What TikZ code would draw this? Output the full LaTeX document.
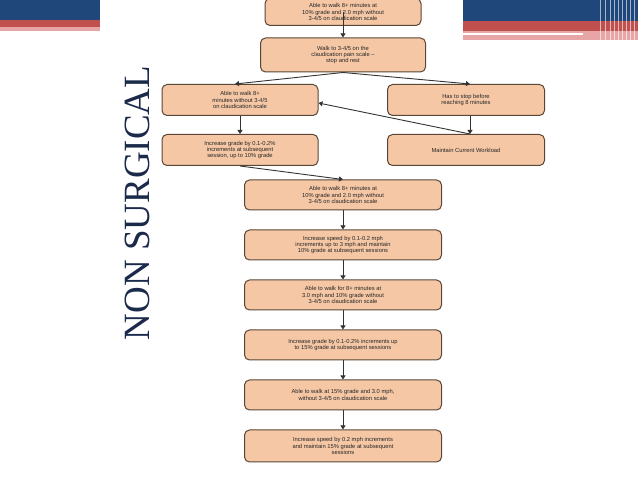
\documentclass[tikz,border=0pt]{standalone}
\usepackage{fontspec}
\setmainfont{Liberation Serif}
\setsansfont{Liberation Sans}
\usetikzlibrary{arrows.meta}
\definecolor{boxfill}{HTML}{F5C7A5}
\definecolor{boxline}{HTML}{5A4636}
\definecolor{navy}{HTML}{1F4779}
\definecolor{banred}{HTML}{C0504D}
\definecolor{banpink}{HTML}{E8A5A5}
\definecolor{title}{HTML}{1B2A4A}
\tikzset{
  fbox/.style={draw=boxline, line width=1pt, fill=boxfill, rounded corners=5pt, align=center,
    font=\sffamily\fontsize{5.8}{6.2}\selectfont, inner sep=1pt, text=black!85},
  flow/.style={draw=black!80, line width=0.9pt, -{Triangle[length=4pt,width=5pt]}}
}
\begin{document}
\begin{tikzpicture}[x=1pt,y=-1pt]
\useasboundingbox (0,0) rectangle (638,478);
% banners
\fill[navy] (0,0) rectangle (100,20);
\fill[banred] (0,20) rectangle (100,27);
\fill[banpink] (0,27) rectangle (100,31);
\fill[navy] (463,0) rectangle (638,21);
\fill[banred] (463,21) rectangle (638,31);
\fill[banpink] (463,31) rectangle (638,40);
\fill[white] (463,33) rectangle (583,35);
\foreach \x in {600,605,610,614,618,622,626,630,634} \fill[white,opacity=0.6] (\x,0) rectangle (\x+1.2,42);
\node[rotate=90, font=\fontsize{37}{37}\selectfont, text=title] (ttl) at (137,203) {NON SURGICAL};
% boxes
\node[fbox, minimum width=156pt, minimum height=27pt] (a) at (343,12) {Able to walk 8+ minutes at\\10\% grade and 2.0 mph without\\3-4/5 on claudication scale};
\node[fbox, minimum width=165pt, minimum height=34pt] (b) at (343,55) {Walk to 3-4/5 on the\\claudication pain scale --\\stop and rest};
\node[fbox, minimum width=156pt, minimum height=31pt] (c) at (240,100) {Able to walk 8+\\minutes without 3-4/5\\on claudication scale};
\node[fbox, minimum width=157pt, minimum height=31pt] (d) at (466,100) {Has to stop before\\reaching 8 minutes};
\node[fbox, minimum width=156pt, minimum height=31pt] (e) at (240,150) {Increase grade by 0.1-0.2\%\\increments at subsequent\\session, up to 10\% grade};
\node[fbox, minimum width=157pt, minimum height=31pt] (f) at (466,150) {Maintain Current Workload};
\node[fbox, minimum width=197pt, minimum height=30pt] (g) at (343,195) {Able to walk 8+ minutes at\\10\% grade and 2.0 mph without\\3-4/5 on claudication scale};
\node[fbox, minimum width=197pt, minimum height=30pt] (h) at (343,245) {Increase speed by 0.1-0.2 mph\\increments up to 3 mph and maintain\\10\% grade at subsequent sessions};
\node[fbox, minimum width=197pt, minimum height=30pt] (i) at (343,295) {Able to walk for 8+ minutes at\\3.0 mph and 10\% grade without\\3-4/5 on claudication scale};
\node[fbox, minimum width=197pt, minimum height=30pt] (j) at (343,345) {Increase grade by 0.1-0.2\% increments up\\to 15\% grade at subsequent sessions};
\node[fbox, minimum width=197pt, minimum height=30pt] (k) at (343,395) {Able to walk at 15\% grade and 3.0 mph,\\without 3-4/5 on claudication scale};
\node[fbox, minimum width=197pt, minimum height=32pt] (l) at (343,446) {Increase speed by 0.2 mph increments\\and maintain 15\% grade at subsequent\\sessions};
% arrows
\draw[flow] (a.center) -- (b.north);
\draw[flow] (b.south) -- ([xshift=-5pt]c.north);
\draw[flow] (b.south) -- ([xshift=4pt]d.north);
\draw[flow] (c.south) -- (e.north);
\draw[flow] ([xshift=4pt]d.south) -- ([xshift=4pt]f.north);
\draw[flow] ([xshift=4pt]f.north) -- ([yshift=-3pt]c.east);
\draw[flow] (e.south) -- (g.north);
\draw[flow] (g) -- (h);
\draw[flow] (h) -- (i);
\draw[flow] (i) -- (j);
\draw[flow] (j) -- (k);
\draw[flow] (k) -- (l);
\end{tikzpicture}
\end{document}
